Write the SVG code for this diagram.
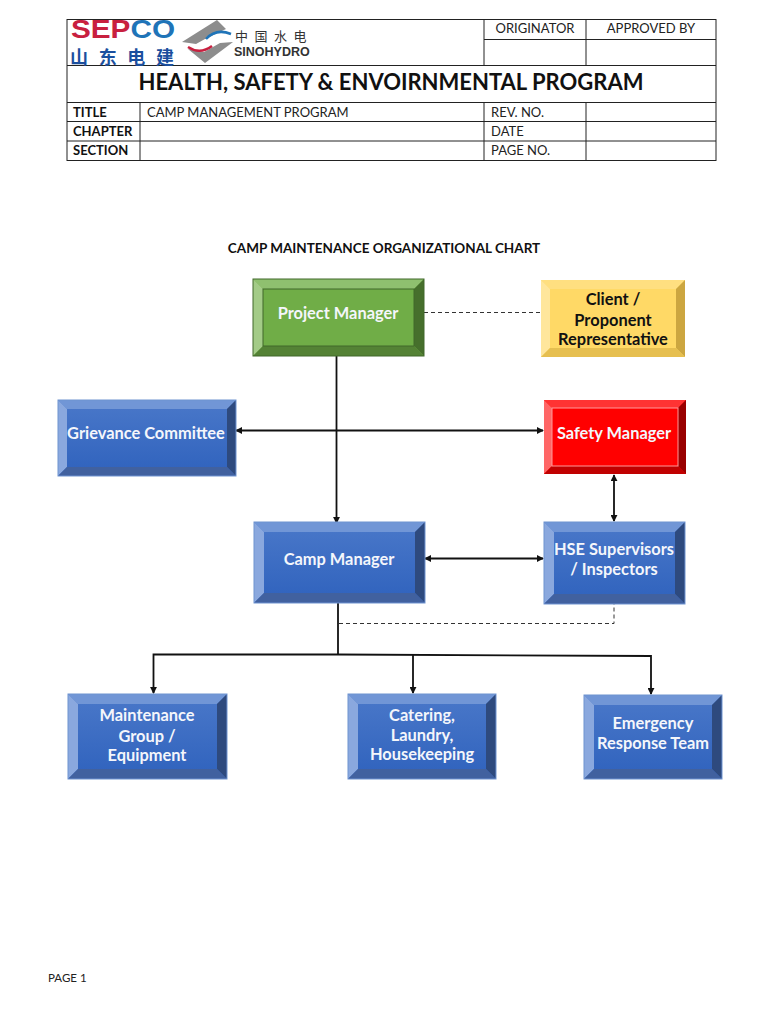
<svg xmlns="http://www.w3.org/2000/svg" width="768" height="1024" viewBox="0 0 768 1024">
<style>
text{font-family:Lato,"Liberation Sans","Noto Sans CJK SC",sans-serif}
.tb{fill:none;stroke:#222;stroke-width:1}
.c{font-size:13px;fill:#222}
.cb{font-size:13px;fill:#111;font-weight:700}
.n{font-size:16.400px;font-weight:700;fill:#f4f6fb;text-anchor:middle}
.l{fill:none;stroke:#111;stroke-width:1.800}
.d{fill:none;stroke:#333;stroke-width:1;stroke-dasharray:4 3}
.blue .f{fill:url(#gb)}.blue .t{fill:#7196d6}.blue .a{fill:#8aa8de}.blue .r{fill:#2e4a7e}.blue .b{fill:#41619f}.blue .o{fill:none;stroke:#6f93d0;stroke-width:1}
</style>
<defs>
<linearGradient id="gb" x1="0" y1="0" x2="0" y2="1"><stop offset="0" stop-color="#4a78c9"/><stop offset="1" stop-color="#2f62bd"/></linearGradient>
<marker id="ah" viewBox="0 0 8 8" refX="7" refY="4" markerWidth="7" markerHeight="7" markerUnits="userSpaceOnUse" orient="auto-start-reverse"><path d="M0 0L8 4L0 8Z" fill="#111"/></marker>
</defs>
<rect width="768" height="1024" fill="#fff"/>
<g id="header">
<rect class="tb" x="67" y="19.500" width="649" height="141"/>
<path class="tb" d="M67 65.500H716M67 102.500H716M67 121.500H716M67 141H716M484 19.500V65.500M586 19.500V65.500M484 39.500H716M140 102.500V160.500M484 102.500V160.500M586 102.500V160.500"/>
<text x="535" y="33" class="c" text-anchor="middle">ORIGINATOR</text>
<text x="651" y="33" class="c" text-anchor="middle">APPROVED BY</text>
<text x="391" y="90" text-anchor="middle" font-size="22" font-weight="700" fill="#111">HEALTH, SAFETY &amp; ENVOIRNMENTAL PROGRAM</text>
<text x="73" y="117" class="cb">TITLE</text>
<text x="147" y="117" class="c">CAMP MANAGEMENT PROGRAM</text>
<text x="491" y="117" class="c">REV. NO.</text>
<text x="73" y="136" class="cb">CHAPTER</text>
<text x="491" y="136" class="c">DATE</text>
<text x="73" y="155" class="cb">SECTION</text>
<text x="491" y="155" class="c">PAGE NO.</text>
</g>
<g id="logo">
<text x="71" y="38" font-size="25" font-weight="900" fill="#c8203f" textLength="104" lengthAdjust="spacingAndGlyphs" style="font-family:'Liberation Sans',sans-serif">SEP<tspan fill="#1f74b8">CO</tspan></text>
<text x="70" y="64.300" font-size="18" font-weight="700" fill="#1b4f9e" textLength="104" style="font-family:'Noto Sans CJK SC',sans-serif">山东电建</text>
<path d="M217 20L182 42L196 44L205 39L226 29Z" fill="#8d8d8d"/>
<path d="M233 42L205 63L188 49L204 52L220 43Z" fill="#8d8d8d"/>
<path d="M206 39Q216 28 231 34" fill="none" stroke="#1f74b8" stroke-width="2.500"/>
<path d="M188 47Q200 55 212 46" fill="none" stroke="#c8203f" stroke-width="2.500"/>
<text x="235" y="41" font-size="13" fill="#333" letter-spacing="6.500" style="font-family:'Noto Sans CJK SC',sans-serif">中国水电</text>
<text x="234" y="56" font-size="12.500" font-weight="700" fill="#333" style="font-family:'Liberation Sans',sans-serif">SINOHYDRO</text>
</g>
<text x="384" y="253" text-anchor="middle" font-size="13.500" font-weight="700" fill="#111">CAMP MAINTENANCE ORGANIZATIONAL CHART</text>
<g id="connectors">
<path class="d" d="M424 312.500H541M339 623.500H614V604"/>
<path class="l" d="M336.500 356V523" marker-end="url(#ah)"/>
<path class="l" d="M236 430.500H543" marker-start="url(#ah)" marker-end="url(#ah)"/>
<path class="l" d="M614 475V521" marker-start="url(#ah)" marker-end="url(#ah)"/>
<path class="l" d="M425 558.500H543" marker-start="url(#ah)" marker-end="url(#ah)"/>
<path class="l" d="M338 603V654.500"/>
<path class="l" d="M338 654.500H153.500V693" marker-end="url(#ah)"/>
<path class="l" d="M338 654.500L651 656V694" marker-end="url(#ah)"/>
<path class="l" d="M413 655V693" marker-end="url(#ah)"/>
</g>
<g id="project-manager">
<rect x="253" y="279" width="171" height="77" fill="#70ad47"/>
<path d="M253 279H424L414 289H263Z" fill="#8fc06f"/><path d="M253 279L263 289V346L253 356Z" fill="#a3cb87"/><path d="M424 279V356L414 346V289Z" fill="#466f2c"/><path d="M253 356L263 346H414L424 356Z" fill="#548235"/>
<rect x="253" y="279" width="171" height="77" fill="none" stroke="#41692a"/><rect x="263" y="289" width="151" height="57" fill="none" stroke="#41692a"/>
<text class="n" x="338" y="319">Project Manager</text>
</g>
<g id="client-representative">
<rect x="541" y="280" width="144" height="77" fill="#ffd966"/>
<path d="M541 280H685L676 289H550Z" fill="#ffdf80"/><path d="M541 280L550 289V348L541 357Z" fill="#ffe69c"/><path d="M685 280V357L676 348V289Z" fill="#cca640"/><path d="M541 357L550 348H676L685 357Z" fill="#e6bf50"/>
<g class="n" style="fill:#111"><text x="613" y="304.500">Client /</text><text x="613" y="325.500">Proponent</text><text x="613" y="344.500">Representative</text></g>
</g>
<g id="safety-manager">
<rect x="544" y="400" width="142" height="74" fill="#f00"/>
<path d="M544 400H686L678 408H552Z" fill="#ff3333"/><path d="M544 400L552 408V466L544 474Z" fill="#ff6666"/><path d="M686 400V474L678 466V408Z" fill="#990000"/><path d="M544 474L552 466H678L686 474Z" fill="#c00000"/>
<rect x="552" y="408" width="126" height="58" fill="none" stroke="#ff9a9a"/>
<text class="n" x="614" y="439">Safety Manager</text>
</g>
<g id="grievance-committee" class="blue">
<rect class="f" x="58" y="400" width="178" height="76"/>
<path class="t" d="M58 400H236L227 409H67Z"/><path class="a" d="M58 400L67 409V467L58 476Z"/><path class="r" d="M236 400V476L227 467V409Z"/><path class="b" d="M58 476L67 467H227L236 476Z"/>
<rect class="o" x="58" y="400" width="178" height="76"/>
<text class="n" x="146" y="439">Grievance Committee</text>
</g>
<g id="camp-manager" class="blue">
<rect class="f" x="254" y="522" width="171" height="81"/>
<path class="t" d="M254 522H425L415 532H264Z"/><path class="a" d="M254 522L264 532V593L254 603Z"/><path class="r" d="M425 522V603L415 593V532Z"/><path class="b" d="M254 603L264 593H415L425 603Z"/>
<rect class="o" x="254" y="522" width="171" height="81"/>
<text class="n" x="339" y="564.500">Camp Manager</text>
</g>
<g id="hse-supervisors" class="blue">
<rect class="f" x="544" y="522" width="141" height="82"/>
<path class="t" d="M544 522H685L675 532H554Z"/><path class="a" d="M544 522L554 532V594L544 604Z"/><path class="r" d="M685 522V604L675 594V532Z"/><path class="b" d="M544 604L554 594H675L685 604Z"/>
<rect class="o" x="544" y="522" width="141" height="82"/>
<text class="n" x="614" y="554.500">HSE Supervisors</text><text class="n" x="614" y="574.500">/ Inspectors</text>
</g>
<g id="maintenance-group" class="blue">
<rect class="f" x="68" y="694" width="159" height="85"/>
<path class="t" d="M68 694H227L217 704H78Z"/><path class="a" d="M68 694L78 704V769L68 779Z"/><path class="r" d="M227 694V779L217 769V704Z"/><path class="b" d="M68 779L78 769H217L227 779Z"/>
<rect class="o" x="68" y="694" width="159" height="85"/>
<text class="n" x="147" y="720.500">Maintenance</text><text class="n" x="147" y="741.500">Group /</text><text class="n" x="147" y="760.500">Equipment</text>
</g>
<g id="catering-laundry" class="blue">
<rect class="f" x="348" y="694" width="148" height="85"/>
<path class="t" d="M348 694H496L486 704H358Z"/><path class="a" d="M348 694L358 704V769L348 779Z"/><path class="r" d="M496 694V779L486 769V704Z"/><path class="b" d="M348 779L358 769H486L496 779Z"/>
<rect class="o" x="348" y="694" width="148" height="85"/>
<text class="n" x="422" y="720.500">Catering,</text><text class="n" x="422" y="740.500">Laundry,</text><text class="n" x="422" y="759.500">Housekeeping</text>
</g>
<g id="emergency-response" class="blue">
<rect class="f" x="584" y="695" width="138" height="84"/>
<path class="t" d="M584 695H722L712 705H594Z"/><path class="a" d="M584 695L594 705V769L584 779Z"/><path class="r" d="M722 695V779L712 769V705Z"/><path class="b" d="M584 779L594 769H712L722 779Z"/>
<rect class="o" x="584" y="695" width="138" height="84"/>
<text class="n" x="653" y="728.500">Emergency</text><text class="n" x="653" y="748.500">Response Team</text>
</g>
<text x="48" y="982" font-size="11.500" fill="#222">PAGE 1</text>
</svg>
